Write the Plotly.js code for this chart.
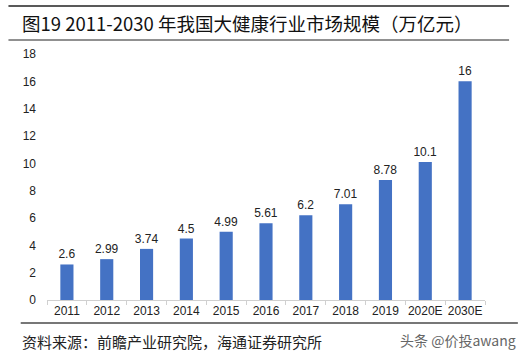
<!DOCTYPE html>
<html>
<head>
<meta charset="utf-8">
<script src="https://cdn.plot.ly/plotly-3.0.1.min.js"></script>
<style>html,body{margin:0;padding:0;background:#fff;}#chart{width:522px;height:356px;}</style>
</head>
<body>
<div id="chart"></div>
<script>
const categories = ["2011","2012","2013","2014","2015","2016","2017","2018","2019","2020E","2030E"];
const values = [2.6, 2.99, 3.74, 4.5, 4.99, 5.61, 6.2, 7.01, 8.78, 10.1, 16];
const yTicks = [0,2,4,6,8,10,12,14,16,18];

const latin = "Liberation Sans, Arial, sans-serif";
const cjk = "Noto Sans CJK SC, sans-serif";
const H = 246; // plot height in px
const py = px => (300 - px) / H; // page y (px) -> paper y

const trace = {
  type: "bar",
  x: categories,
  y: values,
  text: values.map(v => String(v)),
  textposition: "outside",
  constraintext: "none",
  textfont: {family: latin, size: 12, color: "#222"},
  cliponaxis: false,
  marker: {color: "#4472C4"},
  hoverinfo: "none"
};

const layout = {
  width: 522, height: 356,
  margin: {l: 47, r: 37, t: 54, b: 56},
  paper_bgcolor: "#fff", plot_bgcolor: "#fff",
  bargap: 0.67,
  showlegend: false,
  xaxis: {
    type: "category",
    showgrid: false,
    showline: true, linecolor: "#d0d0d0", linewidth: 1,
    ticks: "outside", tickson: "boundaries", ticklen: 4, tickcolor: "#d0d0d0",
    tickangle: 0,
    tickfont: {family: latin, size: 12, color: "#222"},
    zeroline: false
  },
  yaxis: {
    range: [0, 18],
    tickvals: yTicks,
    ticktext: yTicks.map(String),
    showgrid: false, zeroline: false, showline: false,
    ticks: "", ticklabelstandoff: 10,
    tickfont: {family: latin, size: 12, color: "#222"}
  },
  shapes: [
    {type: "line", xref: "paper", yref: "paper", x0: -0.088, x1: 1.055, y0: py(6), y1: py(6), line: {color: "#222", width: 1.5}},
    {type: "line", xref: "paper", yref: "paper", x0: -0.088, x1: 1.055, y0: py(40), y1: py(40), line: {color: "#222", width: 1}},
    {type: "line", xref: "paper", yref: "paper", x0: -0.06, x1: 1.075, y0: py(323), y1: py(323), line: {color: "#777", width: 2}}
  ],
  annotations: [
    {xref: "paper", yref: "paper", x: -0.062, y: py(23), xanchor: "left", yanchor: "middle", showarrow: false,
     text: "图19 2011-2030 年我国大健康行业市场规模（万亿元）", font: {family: cjk, size: 18.5, color: "#111"}},
    {xref: "paper", yref: "paper", x: -0.062, y: py(341), xanchor: "left", yanchor: "middle", showarrow: false,
     text: "资料来源：前瞻产业研究院，海通证券研究所", font: {family: cjk, size: 15, color: "#222"}},
    {xref: "paper", yref: "paper", x: 1.075, y: py(340), xanchor: "right", yanchor: "middle", showarrow: false,
     text: "头条 @价投awang", font: {family: cjk, size: 14, color: "#666"}}
  ]
};

Plotly.newPlot("chart", [trace], layout, {displayModeBar: false, staticPlot: true});
</script>
</body>
</html>
